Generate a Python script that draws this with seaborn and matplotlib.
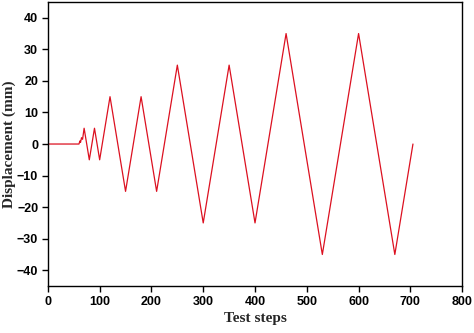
import matplotlib
matplotlib.use("Agg")
import matplotlib.pyplot as plt
import seaborn as sns
import pandas as pd

steps = [0, 60, 62, 63, 65, 67, 70, 80, 90, 100, 120, 150, 180, 210, 250, 300,
         350, 400, 460, 530, 600, 670, 705]
displacement = [0, 0, 1, 0.5, 2, 1.5, 5, -5, 5, -5, 15, -15, 15, -15, 25, -25,
                25, -25, 35, -35, 35, -35, 0]
xticks = [0, 100, 200, 300, 400, 500, 600, 700, 800]
yticks = [-40, -30, -20, -10, 0, 10, 20, 30, 40]

sns.set_style("ticks")
df = pd.DataFrame({"Test steps": steps, "Displacement (mm)": displacement})

fig = plt.figure(figsize=(4.74, 3.33), dpi=100)
ax = fig.add_axes([0.101, 0.141, 0.874, 0.853])
sns.lineplot(data=df, x="Test steps", y="Displacement (mm)", ax=ax,
             color="#dc1020", linewidth=0.9, sort=False)
ax.set_xlim(0, 800)
ax.set_ylim(-45, 45)
ax.set_xticks(xticks)
ax.set_yticks(yticks)
for lab in ax.get_xticklabels() + ax.get_yticklabels():
    lab.set_fontfamily("Liberation Sans")
    lab.set_fontweight("bold")
    lab.set_fontsize(9)
ax.tick_params(direction="out", length=4, width=1, colors="black", pad=3)
ax.set_xlabel("Test steps", fontfamily="Liberation Serif", fontweight="bold", fontsize=11)
ax.set_ylabel("Displacement (mm)", fontfamily="Liberation Serif", fontweight="bold", fontsize=11)
ax.yaxis.set_label_coords(-0.077, 0.5)
ax.xaxis.set_label_coords(0.5, -0.092)
for s in ax.spines.values():
    s.set_visible(True)
    s.set_color("black")
    s.set_linewidth(1.0)
fig.savefig("out.png", dpi=100)
